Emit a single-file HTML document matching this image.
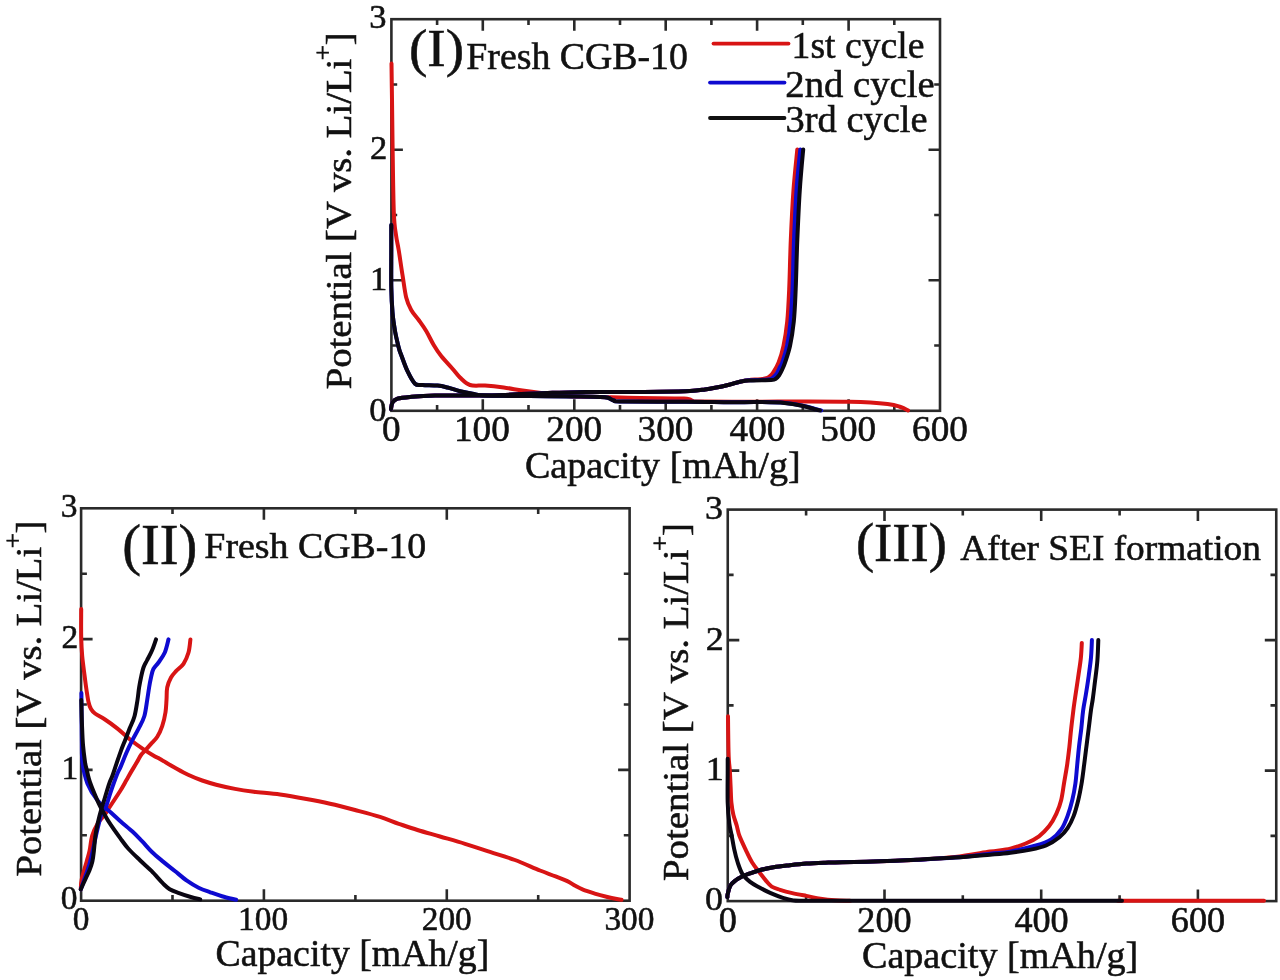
<!DOCTYPE html>
<html><head><meta charset="utf-8"><title>Capacity vs Potential</title>
<style>html,body{margin:0;padding:0;background:#fff;}body{width:1280px;height:980px;overflow:hidden;}svg{display:block;}</style>
</head><body>
<svg width="1280" height="980" viewBox="0 0 1280 980" font-family='"Liberation Serif", "Times New Roman", serif' fill="#111">

<rect width="1280" height="980" fill="#fff"/>
<g>
<rect x="391.4" y="19.2" width="548.6" height="391.6" fill="none" stroke="#2a2a2a" stroke-width="2.6"/>
<path d="M437.1,410.8v-5.8 M437.1,19.2v5.8 M482.8,410.8v-11.5 M482.8,19.2v11.5 M528.5,410.8v-5.8 M528.5,19.2v5.8 M574.3,410.8v-11.5 M574.3,19.2v11.5 M620.0,410.8v-5.8 M620.0,19.2v5.8 M665.7,410.8v-11.5 M665.7,19.2v11.5 M711.4,410.8v-5.8 M711.4,19.2v5.8 M757.1,410.8v-11.5 M757.1,19.2v11.5 M802.8,410.8v-5.8 M802.8,19.2v5.8 M848.6,410.8v-11.5 M848.6,19.2v11.5 M894.3,410.8v-5.8 M894.3,19.2v5.8 M391.4,345.5h5.8 M940.0,345.5h-5.8 M391.4,280.3h11.5 M940.0,280.3h-11.5 M391.4,215.0h5.8 M940.0,215.0h-5.8 M391.4,149.7h11.5 M940.0,149.7h-11.5 M391.4,84.5h5.8 M940.0,84.5h-5.8" stroke="#2a2a2a" stroke-width="2.6" fill="none"/>
<rect x="81.1" y="508.3" width="548.5" height="392.4" fill="none" stroke="#2a2a2a" stroke-width="2.6"/>
<path d="M172.5,900.7v-5.8 M172.5,508.3v5.8 M263.9,900.7v-11.5 M263.9,508.3v11.5 M355.4,900.7v-5.8 M355.4,508.3v5.8 M446.8,900.7v-11.5 M446.8,508.3v11.5 M538.2,900.7v-5.8 M538.2,508.3v5.8 M81.1,835.3h5.8 M629.6,835.3h-5.8 M81.1,769.9h11.5 M629.6,769.9h-11.5 M81.1,704.5h5.8 M629.6,704.5h-5.8 M81.1,639.1h11.5 M629.6,639.1h-11.5 M81.1,573.7h5.8 M629.6,573.7h-5.8" stroke="#2a2a2a" stroke-width="2.6" fill="none"/>
<rect x="727.75" y="509.6" width="548.5" height="391.5" fill="none" stroke="#2a2a2a" stroke-width="2.6"/>
<path d="M806.1,901.1v-5.8 M806.1,509.6v5.8 M884.5,901.1v-11.5 M884.5,509.6v11.5 M962.8,901.1v-5.8 M962.8,509.6v5.8 M1041.2,901.1v-11.5 M1041.2,509.6v11.5 M1119.6,901.1v-5.8 M1119.6,509.6v5.8 M1197.9,901.1v-11.5 M1197.9,509.6v11.5 M727.8,835.9h5.8 M1276.3,835.9h-5.8 M727.8,770.6h11.5 M1276.3,770.6h-11.5 M727.8,705.4h5.8 M1276.3,705.4h-5.8 M727.8,640.1h11.5 M1276.3,640.1h-11.5 M727.8,574.9h5.8 M1276.3,574.9h-5.8" stroke="#2a2a2a" stroke-width="2.6" fill="none"/>
<path d="M391.5,63.5 C391.6,69.6 391.8,87.2 392.0,100.0 C392.2,112.8 392.2,121.3 392.5,140.0 C392.8,158.7 393.2,196.2 393.8,212.0 C394.4,227.8 395.2,228.7 396.0,235.0 C396.8,241.3 397.6,243.3 398.7,250.0 C399.8,256.7 401.2,267.1 402.5,275.0 C403.8,282.9 404.8,291.7 406.2,297.5 C407.6,303.3 409.1,306.2 411.2,310.0 C413.3,313.8 416.2,316.5 418.7,320.0 C421.2,323.5 423.7,326.8 426.2,331.0 C428.7,335.2 431.2,340.8 433.7,345.0 C436.2,349.2 438.1,352.1 441.2,356.0 C444.3,359.9 449.4,365.1 452.5,368.7 C455.6,372.3 457.1,374.8 460.0,377.5 C462.9,380.2 465.8,383.6 470.0,385.0 C474.2,386.4 479.4,385.2 485.0,385.6 C490.6,386.0 497.4,386.7 503.7,387.5 C509.9,388.3 516.3,389.7 522.5,390.6 C528.7,391.5 533.1,392.1 541.0,393.0 C548.9,393.9 560.2,395.6 570.0,396.3 C579.8,397.0 588.3,396.7 600.0,397.0 C611.7,397.3 626.0,397.8 640.0,398.0 C654.0,398.2 675.3,398.1 684.0,398.5 C692.7,398.9 689.5,400.0 692.0,400.5 C694.5,401.0 687.7,401.3 699.0,401.5 C710.3,401.7 744.2,401.7 760.0,401.7 C775.8,401.7 778.7,401.5 793.7,401.5 C808.7,401.5 834.4,401.4 850.0,401.8 C865.6,402.2 879.1,403.1 887.5,404.0 C895.9,404.9 897.2,405.9 900.6,407.0 C904.0,408.1 906.8,409.8 908.0,410.4" stroke="#d81414" stroke-width="4.0" fill="none" stroke-linejoin="round" stroke-linecap="round"/>
<path d="M391.0,409.0 C391.2,407.9 391.4,404.2 392.5,402.5 C393.6,400.8 394.6,399.6 397.5,398.7 C400.4,397.8 403.8,397.4 410.0,396.9 C416.2,396.4 422.5,395.8 435.0,395.6 C447.5,395.4 473.8,395.7 485.0,395.6 C496.2,395.5 495.4,395.3 502.5,395.0 C509.6,394.7 519.2,394.1 527.5,393.8 C535.8,393.4 544.2,393.0 552.5,392.8 C560.8,392.5 569.6,392.4 577.5,392.2 C585.4,392.1 592.9,391.9 600.0,391.9 C607.1,391.9 610.0,392.0 620.0,392.0 C630.0,392.0 648.3,392.0 660.0,391.8 C671.7,391.6 682.5,391.4 690.0,391.0 C697.5,390.6 700.8,390.0 705.0,389.5 C709.2,389.0 711.2,388.6 715.0,387.8 C718.8,387.1 723.7,386.1 728.0,385.0 C732.3,383.9 737.5,382.3 741.0,381.5 C744.5,380.7 744.7,380.7 748.7,380.2 C752.7,379.7 761.5,379.2 765.0,378.5 C768.5,377.8 768.6,377.1 770.0,376.0 C771.4,374.9 772.1,374.3 773.5,372.0 C774.9,369.7 776.9,366.7 778.6,362.4 C780.3,358.1 782.1,352.8 783.5,346.0 C784.9,339.2 786.2,331.1 787.2,321.6 C788.2,312.1 788.6,302.6 789.2,289.0 C789.8,275.4 790.1,256.5 790.8,240.0 C791.5,223.5 792.4,205.1 793.5,190.0 C794.6,174.9 796.7,156.2 797.3,149.5" stroke="#d81414" stroke-width="4.0" fill="none" stroke-linejoin="round" stroke-linecap="round"/>
<path d="M391.3,225.0 C391.3,229.2 391.3,239.6 391.3,250.0 C391.3,260.4 391.1,277.1 391.3,287.5 C391.5,297.9 391.9,305.2 392.5,312.5 C393.1,319.8 394.0,325.2 395.0,331.0 C396.0,336.8 397.7,343.5 398.7,347.5 C399.7,351.5 399.7,351.1 401.2,355.0 C402.7,358.9 405.2,366.4 407.5,371.2 C409.8,376.0 412.5,381.4 415.0,383.7 C417.5,386.0 418.8,384.7 422.5,385.0 C426.2,385.3 433.3,385.2 437.5,385.6 C441.7,386.0 443.8,386.6 447.5,387.5 C451.2,388.4 455.8,390.2 460.0,391.2 C464.2,392.2 468.3,393.0 472.5,393.7 C476.7,394.4 475.4,395.2 485.0,395.6 C494.6,396.0 515.0,395.9 530.0,396.0 C545.0,396.1 563.3,396.3 575.0,396.5 C586.7,396.7 594.5,396.8 600.0,397.0 C605.5,397.2 605.7,397.2 608.0,397.8 C610.3,398.4 611.7,399.9 614.0,400.5 C616.3,401.1 610.0,401.3 622.0,401.5 C634.0,401.7 668.0,401.6 686.0,401.7 C704.0,401.8 718.3,402.2 730.0,402.3 C741.7,402.4 746.7,401.9 756.0,402.0 C765.3,402.1 777.6,402.3 785.6,403.0 C793.6,403.7 798.9,404.9 804.2,406.0 C809.5,407.1 814.4,408.8 817.2,409.5 C820.0,410.2 820.5,410.2 821.2,410.4" stroke="#0e0ad0" stroke-width="4.0" fill="none" stroke-linejoin="round" stroke-linecap="round"/>
<path d="M391.0,409.0 C391.2,407.9 391.4,404.2 392.5,402.5 C393.6,400.8 394.6,399.6 397.5,398.7 C400.4,397.8 403.8,397.4 410.0,396.9 C416.2,396.4 422.5,395.8 435.0,395.6 C447.5,395.4 473.8,395.7 485.0,395.6 C496.2,395.5 495.4,395.3 502.5,395.0 C509.6,394.7 519.2,394.1 527.5,393.8 C535.8,393.4 544.2,393.0 552.5,392.8 C560.8,392.5 569.6,392.4 577.5,392.2 C585.4,392.1 592.9,391.9 600.0,391.9 C607.1,391.9 610.0,392.0 620.0,392.0 C630.0,392.0 648.3,392.0 660.0,391.8 C671.7,391.6 682.5,391.4 690.0,391.0 C697.5,390.6 700.8,390.0 705.0,389.5 C709.2,389.0 711.2,388.6 715.0,387.8 C718.8,387.1 723.7,386.1 728.0,385.0 C732.3,383.9 737.5,382.3 741.0,381.5 C744.5,380.7 744.2,380.6 748.7,380.3 C753.2,380.0 764.0,380.0 768.0,379.5 C772.0,379.0 771.5,378.6 773.0,377.5 C774.5,376.4 775.8,374.8 777.0,373.0 C778.2,371.2 779.1,368.8 780.0,367.0 C780.9,365.2 781.1,365.9 782.3,362.4 C783.5,358.9 785.6,352.8 787.0,346.0 C788.4,339.2 789.6,331.1 790.5,321.6 C791.4,312.1 791.9,302.6 792.5,289.0 C793.1,275.4 793.3,256.5 794.0,240.0 C794.7,223.5 795.5,205.1 796.5,190.0 C797.5,174.9 799.7,156.2 800.3,149.5" stroke="#0e0ad0" stroke-width="4.0" fill="none" stroke-linejoin="round" stroke-linecap="round"/>
<path d="M391.3,225.0 C391.3,229.2 391.3,239.6 391.3,250.0 C391.3,260.4 391.1,277.1 391.3,287.5 C391.5,297.9 391.9,305.2 392.5,312.5 C393.1,319.8 394.0,325.2 395.0,331.0 C396.0,336.8 397.7,343.5 398.7,347.5 C399.7,351.5 399.7,351.1 401.2,355.0 C402.7,358.9 405.2,366.4 407.5,371.2 C409.8,376.0 412.5,381.4 415.0,383.7 C417.5,386.0 418.8,384.7 422.5,385.0 C426.2,385.3 433.3,385.2 437.5,385.6 C441.7,386.0 443.8,386.6 447.5,387.5 C451.2,388.4 455.8,390.2 460.0,391.2 C464.2,392.2 468.3,393.0 472.5,393.7 C476.7,394.4 475.4,395.2 485.0,395.6 C494.6,396.0 515.0,395.9 530.0,396.0 C545.0,396.1 563.3,396.3 575.0,396.5 C586.7,396.7 594.5,396.8 600.0,397.0 C605.5,397.2 605.7,397.2 608.0,397.8 C610.3,398.4 611.7,399.9 614.0,400.5 C616.3,401.1 610.0,401.3 622.0,401.5 C634.0,401.7 668.0,401.6 686.0,401.7 C704.0,401.8 718.3,402.2 730.0,402.3 C741.7,402.4 746.9,401.9 756.0,402.0 C765.1,402.1 776.6,402.3 784.4,403.0 C792.2,403.7 797.7,404.9 803.0,406.0 C808.3,407.1 813.2,408.8 816.0,409.5 C818.8,410.2 819.3,410.2 820.0,410.4" stroke="#0a0612" stroke-width="4.0" fill="none" stroke-linejoin="round" stroke-linecap="round"/>
<path d="M391.0,409.0 C391.2,407.9 391.4,404.2 392.5,402.5 C393.6,400.8 394.6,399.6 397.5,398.7 C400.4,397.8 403.8,397.4 410.0,396.9 C416.2,396.4 422.5,395.8 435.0,395.6 C447.5,395.4 473.8,395.7 485.0,395.6 C496.2,395.5 495.4,395.3 502.5,395.0 C509.6,394.7 519.2,394.1 527.5,393.8 C535.8,393.4 544.2,393.0 552.5,392.8 C560.8,392.5 569.6,392.4 577.5,392.2 C585.4,392.1 592.9,391.9 600.0,391.9 C607.1,391.9 610.0,392.0 620.0,392.0 C630.0,392.0 648.3,392.0 660.0,391.8 C671.7,391.6 682.5,391.4 690.0,391.0 C697.5,390.6 700.8,390.0 705.0,389.5 C709.2,389.0 711.2,388.6 715.0,387.8 C718.8,387.1 723.7,386.1 728.0,385.0 C732.3,383.9 737.5,382.2 741.0,381.5 C744.5,380.8 743.7,380.8 748.7,380.5 C753.7,380.2 766.7,380.2 771.2,380.0 C775.7,379.8 774.2,379.8 775.5,379.0 C776.8,378.2 777.9,377.0 779.0,375.5 C780.1,374.0 781.0,372.2 782.0,370.0 C783.0,367.8 783.8,366.4 785.1,362.4 C786.4,358.4 788.5,352.8 790.0,346.0 C791.5,339.2 792.8,331.1 793.8,321.6 C794.8,312.1 795.1,302.6 795.7,289.0 C796.3,275.4 796.6,256.5 797.3,240.0 C798.0,223.5 798.8,205.1 799.8,190.0 C800.8,174.9 802.6,156.2 803.2,149.5" stroke="#0a0612" stroke-width="4.0" fill="none" stroke-linejoin="round" stroke-linecap="round"/>
<path d="M713.5,43.6H788.5" stroke="#d81414" stroke-width="3.8" stroke-linecap="round"/>
<path d="M710,82.6H784.5" stroke="#0e0ad0" stroke-width="3.8" stroke-linecap="round"/>
<path d="M710,118H784.5" stroke="#111" stroke-width="3.8" stroke-linecap="round"/>
<path d="M81.2,609.0 C81.2,613.8 81.0,629.6 81.2,637.5 C81.4,645.4 81.7,650.0 82.2,656.2 C82.8,662.5 83.8,669.4 84.5,675.0 C85.2,680.6 85.8,685.5 86.5,690.0 C87.2,694.5 87.8,698.8 88.5,702.0 C89.2,705.2 89.9,707.1 91.0,709.0 C92.1,710.9 92.7,711.8 95.0,713.5 C97.3,715.2 101.2,717.0 105.0,719.5 C108.8,722.0 113.3,725.3 117.5,728.6 C121.7,731.9 125.8,736.2 130.0,739.5 C134.2,742.8 138.3,745.8 142.5,748.6 C146.7,751.4 152.1,754.8 155.0,756.5 C157.9,758.2 156.8,757.1 160.0,758.9 C163.2,760.7 169.4,764.6 174.1,767.3 C178.8,769.9 183.4,772.6 188.1,774.8 C192.8,777.0 197.5,778.9 202.2,780.5 C206.9,782.1 210.8,783.3 216.2,784.7 C221.7,786.1 228.8,787.7 235.0,788.9 C241.2,790.1 246.2,790.8 253.8,791.7 C261.2,792.6 271.5,793.3 280.0,794.5 C288.5,795.7 296.7,797.2 305.0,798.8 C313.3,800.3 321.7,801.9 330.0,803.8 C338.3,805.6 346.7,807.8 355.0,810.0 C363.3,812.2 372.7,814.6 380.0,816.9 C387.3,819.2 392.5,821.6 398.8,823.8 C405.0,825.9 410.6,827.9 417.5,830.0 C424.4,832.1 432.1,834.2 440.0,836.5 C447.9,838.8 456.7,841.2 465.0,843.8 C473.3,846.3 481.7,849.2 490.0,851.9 C498.3,854.6 506.7,856.9 515.0,860.0 C523.3,863.1 533.2,867.8 540.0,870.5 C546.8,873.2 551.1,874.6 555.6,876.4 C560.1,878.2 564.0,879.5 567.3,881.1 C570.6,882.7 572.6,884.4 575.2,885.8 C577.8,887.2 579.8,888.4 583.0,889.7 C586.2,891.0 590.8,892.4 594.7,893.6 C598.6,894.8 602.5,895.8 606.4,896.7 C610.3,897.7 615.6,898.8 618.1,899.3 C620.6,899.8 620.9,899.7 621.5,899.8" stroke="#d81414" stroke-width="4.0" fill="none" stroke-linejoin="round" stroke-linecap="round"/>
<path d="M80.8,889.3 C81.0,887.6 80.7,883.9 81.7,879.3 C82.7,874.6 85.4,866.2 86.7,861.4 C88.0,856.6 88.7,855.1 89.6,850.7 C90.5,846.4 90.9,839.9 92.3,835.3 C93.7,830.7 96.0,826.5 98.0,823.1 C100.0,819.7 102.7,817.5 104.6,814.9 C106.5,812.3 106.6,811.6 109.2,807.7 C111.8,803.8 117.1,795.9 120.0,791.3 C122.9,786.7 124.5,783.5 126.5,780.0 C128.5,776.5 130.2,773.4 132.0,770.4 C133.8,767.4 135.5,764.6 137.0,762.0 C138.5,759.4 139.7,756.9 141.0,755.0 C142.3,753.1 143.5,752.4 145.1,750.6 C146.7,748.8 148.8,746.4 150.8,744.1 C152.8,741.8 155.4,739.7 157.3,736.7 C159.2,733.7 160.8,730.2 162.2,726.1 C163.6,722.0 164.8,716.6 165.5,712.2 C166.2,707.9 166.2,704.1 166.5,700.0 C166.8,695.9 166.5,691.2 167.2,687.5 C168.0,683.8 169.5,680.2 171.0,677.5 C172.5,674.8 173.9,673.5 176.0,671.2 C178.1,669.0 181.4,666.9 183.5,663.8 C185.6,660.6 187.3,656.6 188.5,652.5 C189.7,648.4 190.1,641.6 190.4,639.4" stroke="#d81414" stroke-width="4.0" fill="none" stroke-linejoin="round" stroke-linecap="round"/>
<path d="M81.4,693.0 C81.5,700.8 81.6,728.4 81.8,740.0 C82.0,751.6 81.6,755.4 82.5,762.6 C83.4,769.8 84.9,777.0 87.4,783.4 C90.0,789.8 93.9,795.9 97.8,800.7 C101.7,805.5 106.8,808.8 110.6,812.2 C114.4,815.6 116.7,817.9 120.4,821.2 C124.1,824.5 129.1,828.5 132.7,831.8 C136.3,835.1 138.8,837.9 142.0,841.2 C145.2,844.5 148.1,848.2 151.7,851.7 C155.3,855.2 159.5,858.6 163.4,861.9 C167.3,865.2 171.3,868.1 175.2,871.2 C179.1,874.4 183.0,877.9 186.9,880.6 C190.8,883.3 194.7,885.8 198.6,887.7 C202.5,889.7 206.4,890.9 210.3,892.3 C214.2,893.7 217.7,895.0 222.0,896.2 C226.3,897.5 233.8,899.2 236.1,899.8" stroke="#0e0ad0" stroke-width="4.0" fill="none" stroke-linejoin="round" stroke-linecap="round"/>
<path d="M80.8,889.3 C81.6,887.1 84.0,880.2 85.5,876.0 C87.0,871.8 88.3,868.0 89.5,864.0 C90.7,860.0 91.6,856.0 92.5,852.0 C93.4,848.0 94.0,844.5 95.0,840.0 C96.0,835.5 97.3,829.7 98.5,825.0 C99.7,820.3 100.8,814.9 102.0,812.0 C103.2,809.1 104.1,811.2 105.6,807.7 C107.1,804.2 109.0,796.8 110.9,791.3 C112.8,785.8 115.2,779.1 116.8,775.0 C118.4,770.9 119.0,770.6 120.6,766.9 C122.2,763.2 124.4,757.4 126.3,753.0 C128.2,748.6 129.9,744.9 132.0,740.8 C134.1,736.7 136.5,732.7 138.6,728.6 C140.7,724.5 142.9,721.1 144.3,716.3 C145.7,711.5 146.4,704.8 147.2,700.0 C148.0,695.2 148.5,691.2 149.1,687.5 C149.7,683.8 150.3,680.6 151.0,677.5 C151.7,674.4 152.2,671.2 153.5,668.8 C154.8,666.2 156.6,665.2 158.5,662.5 C160.4,659.8 163.1,656.4 164.8,652.5 C166.4,648.6 167.9,641.6 168.5,639.4" stroke="#0e0ad0" stroke-width="4.0" fill="none" stroke-linejoin="round" stroke-linecap="round"/>
<path d="M81.3,700.0 C81.4,704.2 81.7,717.5 82.0,725.0 C82.3,732.5 82.5,738.8 83.0,745.0 C83.5,751.2 84.4,757.8 85.0,762.0 C85.6,766.2 86.2,767.3 86.8,770.0 C87.4,772.7 88.0,775.5 88.7,778.0 C89.4,780.5 90.2,782.8 91.0,785.0 C91.8,787.2 92.2,788.2 93.5,791.3 C94.8,794.4 96.6,799.1 98.8,803.6 C101.0,808.1 104.3,814.1 106.5,818.0 C108.7,821.9 109.9,823.5 112.2,826.9 C114.5,830.3 117.7,834.7 120.4,838.4 C123.1,842.1 125.3,845.4 128.6,849.0 C131.9,852.6 136.2,856.6 140.0,860.3 C143.8,864.0 147.8,867.3 151.7,871.2 C155.6,875.2 160.4,880.8 163.4,883.8 C166.4,886.7 167.1,887.6 169.7,889.2 C172.3,890.8 175.5,891.8 179.0,893.1 C182.5,894.4 187.3,896.0 190.8,897.0 C194.3,898.0 198.6,899.0 200.2,899.4" stroke="#0a0612" stroke-width="4.0" fill="none" stroke-linejoin="round" stroke-linecap="round"/>
<path d="M80.8,889.3 C81.5,887.6 83.8,882.5 85.3,879.3 C86.8,876.1 88.4,873.0 89.6,870.0 C90.8,867.0 91.7,864.6 92.4,861.4 C93.1,858.2 93.4,855.1 93.9,850.7 C94.4,846.3 94.8,839.6 95.5,835.0 C96.2,830.4 96.8,827.5 97.8,823.0 C98.8,818.5 100.6,811.5 101.7,807.7 C102.8,803.9 103.4,802.7 104.2,800.0 C105.0,797.3 105.9,794.3 106.8,791.3 C107.7,788.3 108.8,784.7 109.8,782.0 C110.8,779.3 111.6,778.0 112.7,775.0 C113.8,772.0 115.1,767.8 116.5,763.7 C117.9,759.6 119.5,754.7 121.0,750.6 C122.5,746.5 124.1,742.9 125.5,739.2 C126.9,735.5 128.1,732.4 129.6,728.6 C131.1,724.8 133.2,721.1 134.5,716.3 C135.8,711.5 136.7,704.8 137.5,700.0 C138.3,695.2 138.5,691.2 139.1,687.5 C139.7,683.8 140.3,680.8 141.0,677.5 C141.7,674.2 142.5,670.4 143.5,667.5 C144.5,664.6 145.8,662.9 147.2,660.0 C148.7,657.1 150.8,653.4 152.2,650.0 C153.7,646.6 155.4,641.2 156.0,639.4" stroke="#0a0612" stroke-width="4.0" fill="none" stroke-linejoin="round" stroke-linecap="round"/>
<path d="M728.0,716.3 C728.0,720.2 728.2,732.9 728.3,740.0 C728.4,747.1 728.5,753.8 728.8,758.8 C729.0,763.8 729.5,765.4 729.8,770.0 C730.1,774.6 730.3,780.8 730.6,786.3 C730.9,791.8 730.9,797.9 731.4,802.7 C731.9,807.5 732.5,811.1 733.4,814.9 C734.3,818.7 735.7,822.0 736.7,825.5 C737.7,829.0 738.0,832.1 739.5,836.0 C741.0,839.9 743.3,844.7 745.4,849.1 C747.5,853.5 749.6,858.3 752.0,862.2 C754.4,866.1 757.1,869.4 759.5,872.5 C761.9,875.6 764.1,878.5 766.1,880.9 C768.1,883.2 769.4,885.1 771.7,886.6 C774.0,888.1 776.7,888.7 780.1,889.8 C783.5,890.9 787.9,892.1 792.3,893.1 C796.7,894.1 801.7,895.0 806.4,895.9 C811.1,896.8 815.6,898.1 820.4,898.8 C825.2,899.5 830.1,900.0 835.0,900.3 C839.9,900.6 847.5,900.7 850.0,900.8" stroke="#d81414" stroke-width="4.0" fill="none" stroke-linejoin="round" stroke-linecap="round"/>
<path d="M1118.0,900.8 L1264.0,900.8" stroke="#d81414" stroke-width="4.0" fill="none" stroke-linejoin="round" stroke-linecap="round"/>
<path d="M727.4,897.0 C727.5,896.5 727.2,896.0 727.7,894.1 C728.2,892.2 729.0,888.0 730.4,885.6 C731.8,883.2 734.1,881.6 736.1,880.0 C738.1,878.4 740.3,877.3 742.6,876.2 C744.9,875.1 747.3,874.4 750.1,873.4 C752.9,872.4 755.6,871.2 759.5,870.2 C763.4,869.2 768.9,868.1 773.6,867.3 C778.3,866.5 782.1,866.1 787.6,865.5 C793.1,864.9 800.1,864.1 806.4,863.6 C812.6,863.1 819.2,862.9 825.1,862.7 C831.0,862.5 832.9,862.4 842.0,862.2 C851.1,862.0 867.4,861.7 880.0,861.3 C892.6,860.9 905.0,860.4 917.5,859.7 C930.0,859.0 942.9,858.4 955.0,857.0 C967.1,855.6 980.8,853.0 990.0,851.6 C999.2,850.2 1004.4,850.0 1010.4,848.6 C1016.4,847.2 1020.9,845.5 1025.7,843.5 C1030.5,841.5 1035.1,839.2 1039.0,836.3 C1042.9,833.4 1046.3,829.8 1049.2,826.1 C1052.1,822.4 1054.3,818.2 1056.3,813.9 C1058.3,809.5 1059.9,805.4 1061.2,800.0 C1062.5,794.6 1063.3,787.4 1064.3,781.6 C1065.3,775.8 1066.2,770.9 1067.1,765.1 C1067.9,759.3 1068.7,752.8 1069.4,746.7 C1070.1,740.6 1070.5,734.5 1071.2,728.4 C1071.9,722.3 1072.6,716.5 1073.4,710.0 C1074.2,703.5 1075.4,695.7 1076.3,689.7 C1077.2,683.7 1077.8,679.5 1078.6,674.1 C1079.4,668.7 1080.4,662.7 1080.9,657.5 C1081.4,652.3 1081.7,645.3 1081.8,642.9" stroke="#d81414" stroke-width="4.0" fill="none" stroke-linejoin="round" stroke-linecap="round"/>
<path d="M727.4,897.0 C727.5,896.5 727.2,896.0 727.7,894.1 C728.2,892.2 729.0,888.0 730.4,885.6 C731.8,883.2 734.1,881.6 736.1,880.0 C738.1,878.4 740.3,877.3 742.6,876.2 C744.9,875.1 747.3,874.4 750.1,873.4 C752.9,872.4 755.6,871.2 759.5,870.2 C763.4,869.2 768.9,868.1 773.6,867.3 C778.3,866.5 782.1,866.1 787.6,865.5 C793.1,864.9 800.1,864.1 806.4,863.6 C812.6,863.1 819.2,862.9 825.1,862.7 C831.0,862.5 832.9,862.4 842.0,862.2 C851.1,862.0 867.4,861.7 880.0,861.3 C892.6,860.9 905.0,860.3 917.5,859.7 C930.0,859.1 942.9,858.6 955.0,857.6 C967.1,856.6 980.8,854.7 990.0,853.7 C999.2,852.7 1002.4,853.0 1010.0,851.6 C1017.6,850.2 1029.0,847.5 1035.9,845.5 C1042.8,843.5 1047.0,842.1 1051.2,839.4 C1055.5,836.7 1058.7,833.1 1061.4,829.2 C1064.1,825.3 1065.8,820.8 1067.6,815.9 C1069.4,811.0 1071.0,805.4 1072.3,800.0 C1073.6,794.6 1074.6,789.3 1075.4,783.5 C1076.2,777.7 1076.6,771.2 1077.2,765.1 C1077.8,759.0 1078.3,752.8 1079.0,746.7 C1079.7,740.6 1080.6,734.5 1081.3,728.4 C1082.0,722.3 1082.4,715.7 1083.2,710.0 C1084.0,704.3 1085.0,700.0 1085.9,694.3 C1086.8,688.6 1087.9,682.0 1088.7,675.9 C1089.5,669.8 1090.5,663.5 1091.0,657.5 C1091.5,651.5 1091.8,643.0 1091.9,640.1" stroke="#0e0ad0" stroke-width="4.0" fill="none" stroke-linejoin="round" stroke-linecap="round"/>
<path d="M727.7,758.8 C727.7,760.7 727.7,762.7 727.7,770.0 C727.7,777.3 727.4,793.9 727.7,802.7 C728.0,811.6 728.6,817.7 729.3,823.1 C729.9,828.5 730.8,830.7 731.6,835.0 C732.4,839.3 733.2,844.4 734.2,849.1 C735.2,853.8 736.5,858.9 737.9,863.1 C739.3,867.3 740.6,871.3 742.6,874.4 C744.6,877.5 747.3,879.7 750.1,881.9 C752.9,884.1 756.1,885.6 759.5,887.5 C762.9,889.4 766.8,891.4 770.7,893.1 C774.6,894.8 779.3,896.6 782.9,897.8 C786.5,899.0 787.8,899.7 792.3,900.2 C796.8,900.7 792.0,900.7 810.0,900.8 C828.0,900.9 848.0,900.8 900.0,900.8 C952.0,900.8 1085.0,900.8 1122.0,900.8" stroke="#0a0612" stroke-width="4.0" fill="none" stroke-linejoin="round" stroke-linecap="round"/>
<path d="M727.4,897.0 C727.5,896.5 727.2,896.0 727.7,894.1 C728.2,892.2 729.0,888.0 730.4,885.6 C731.8,883.2 734.1,881.6 736.1,880.0 C738.1,878.4 740.3,877.3 742.6,876.2 C744.9,875.1 747.3,874.4 750.1,873.4 C752.9,872.4 755.6,871.2 759.5,870.2 C763.4,869.2 768.9,868.1 773.6,867.3 C778.3,866.5 782.1,866.1 787.6,865.5 C793.1,864.9 800.1,864.1 806.4,863.6 C812.6,863.1 819.2,862.9 825.1,862.7 C831.0,862.5 832.9,862.4 842.0,862.2 C851.1,862.0 867.4,861.7 880.0,861.3 C892.6,860.9 905.0,860.3 917.5,859.7 C930.0,859.1 942.9,858.4 955.0,857.6 C967.1,856.8 980.8,855.5 990.0,854.7 C999.2,853.9 1003.6,853.6 1010.4,852.7 C1017.2,851.9 1024.8,850.8 1030.8,849.6 C1036.8,848.4 1041.3,847.5 1046.1,845.5 C1050.9,843.5 1055.8,840.2 1059.4,837.3 C1063.0,834.4 1065.2,831.8 1067.6,828.2 C1070.0,824.6 1071.9,820.6 1073.7,815.9 C1075.5,811.2 1077.0,805.3 1078.3,800.0 C1079.6,794.7 1080.5,789.8 1081.5,784.0 C1082.5,778.2 1083.3,771.3 1084.1,765.1 C1084.9,758.9 1085.6,752.8 1086.4,746.7 C1087.2,740.6 1087.9,734.5 1088.7,728.4 C1089.5,722.3 1090.3,714.9 1091.0,710.0 C1091.7,705.1 1092.1,703.8 1092.8,698.9 C1093.5,694.0 1094.3,686.9 1095.1,680.5 C1095.9,674.1 1096.9,667.0 1097.4,660.3 C1097.9,653.6 1098.2,643.5 1098.3,640.1" stroke="#0a0612" stroke-width="4.0" fill="none" stroke-linejoin="round" stroke-linecap="round"/>
<g stroke="#111" fill="#111">
<text transform="translate(382.10,441.10) scale(0.3720,0.3500)" font-size="100" stroke-width="1.52">0</text>
<text transform="translate(454.00,441.10) scale(0.3720,0.3500)" font-size="100" stroke-width="1.52">100</text>
<text transform="translate(546.37,441.10) scale(0.3720,0.3500)" font-size="100" stroke-width="1.52">200</text>
<text transform="translate(637.61,441.10) scale(0.3720,0.3500)" font-size="100" stroke-width="1.52">300</text>
<text transform="translate(729.61,441.10) scale(0.3720,0.3500)" font-size="100" stroke-width="1.52">400</text>
<text transform="translate(820.29,441.10) scale(0.3720,0.3500)" font-size="100" stroke-width="1.52">500</text>
<text transform="translate(912.10,441.10) scale(0.3720,0.3500)" font-size="100" stroke-width="1.52">600</text>
<text transform="translate(369.33,421.35) scale(0.3450,0.3380)" font-size="100" stroke-width="1.61">0</text>
<text transform="translate(370.02,289.52) scale(0.3450,0.3380)" font-size="100" stroke-width="1.61">1</text>
<text transform="translate(370.02,158.82) scale(0.3450,0.3380)" font-size="100" stroke-width="1.61">2</text>
<text transform="translate(369.33,28.12) scale(0.3450,0.3380)" font-size="100" stroke-width="1.61">3</text>
<text transform="translate(72.75,930.21) scale(0.3340,0.3450)" font-size="100" stroke-width="1.62">0</text>
<text transform="translate(238.05,930.21) scale(0.3340,0.3450)" font-size="100" stroke-width="1.62">100</text>
<text transform="translate(421.72,930.21) scale(0.3340,0.3450)" font-size="100" stroke-width="1.62">200</text>
<text transform="translate(604.38,930.21) scale(0.3340,0.3450)" font-size="100" stroke-width="1.62">300</text>
<text transform="translate(60.79,909.15) scale(0.3350,0.3380)" font-size="100" stroke-width="1.63">0</text>
<text transform="translate(61.46,778.85) scale(0.3350,0.3380)" font-size="100" stroke-width="1.63">1</text>
<text transform="translate(61.46,647.88) scale(0.3350,0.3380)" font-size="100" stroke-width="1.63">2</text>
<text transform="translate(60.79,516.92) scale(0.3350,0.3380)" font-size="100" stroke-width="1.63">3</text>
<text transform="translate(718.70,931.70) scale(0.3620,0.3500)" font-size="100" stroke-width="1.54">0</text>
<text transform="translate(857.33,931.70) scale(0.3620,0.3500)" font-size="100" stroke-width="1.54">200</text>
<text transform="translate(1014.42,931.70) scale(0.3620,0.3500)" font-size="100" stroke-width="1.54">400</text>
<text transform="translate(1170.79,931.70) scale(0.3620,0.3500)" font-size="100" stroke-width="1.54">600</text>
<text transform="translate(704.94,910.27) scale(0.3600,0.3450)" font-size="100" stroke-width="1.56">0</text>
<text transform="translate(705.66,780.28) scale(0.3600,0.3450)" font-size="100" stroke-width="1.56">1</text>
<text transform="translate(705.66,649.61) scale(0.3600,0.3450)" font-size="100" stroke-width="1.56">2</text>
<text transform="translate(704.94,518.94) scale(0.3600,0.3450)" font-size="100" stroke-width="1.56">3</text>
<text transform="translate(524.98,477.78) scale(0.3804,0.3867)" font-size="100" stroke-width="1.43">Capacity [mAh/g]</text>
<text transform="translate(215.49,966.16) scale(0.3780,0.3733)" font-size="100" stroke-width="1.46">Capacity [mAh/g]</text>
<text transform="translate(861.98,968.06) scale(0.3812,0.3733)" font-size="100" stroke-width="1.46">Capacity [mAh/g]</text>
<text transform="translate(351.00,389.36) rotate(-90) scale(0.3876,0.3650)" font-size="100" stroke-width="1.46">Potential [V vs. Li/Li<tspan font-size="70" dx="-4" dy="-54">+</tspan><tspan dx="-1" dy="54">]</tspan></text>
<text transform="translate(41.00,876.56) rotate(-90) scale(0.3863,0.3650)" font-size="100" stroke-width="1.46">Potential [V vs. Li/Li<tspan font-size="70" dx="-4" dy="-54">+</tspan><tspan dx="-1" dy="54">]</tspan></text>
<text transform="translate(688.00,881.07) rotate(-90) scale(0.3888,0.3650)" font-size="100" stroke-width="1.46">Potential [V vs. Li/Li<tspan font-size="70" dx="-4" dy="-54">+</tspan><tspan dx="-1" dy="54">]</tspan></text>
<text transform="translate(408.89,66.49) scale(0.5527,0.5289)" font-size="100" stroke-width="1.02">(I)</text>
<text transform="translate(466.27,68.65) scale(0.3782,0.3732)" font-size="100" stroke-width="1.46">Fresh CGB-10</text>
<text transform="translate(122.24,563.61) scale(0.5640,0.5711)" font-size="100" stroke-width="0.97">(II)</text>
<text transform="translate(204.36,557.60) scale(0.3788,0.3493)" font-size="100" stroke-width="1.51">Fresh CGB-10</text>
<text transform="translate(855.92,560.53) scale(0.5462,0.5511)" font-size="100" stroke-width="1.00">(III)</text>
<text transform="translate(960.23,560.17) scale(0.3735,0.3658)" font-size="100" stroke-width="1.49">After SEI formation</text>
<text transform="translate(791.61,57.89) scale(0.3769,0.3767)" font-size="100" stroke-width="1.46">1st cycle</text>
<text transform="translate(785.30,97.27) scale(0.3870,0.3778)" font-size="100" stroke-width="1.44">2nd cycle</text>
<text transform="translate(785.58,132.42) scale(0.3845,0.3706)" font-size="100" stroke-width="1.46">3rd cycle</text>
</g>
</g>
</svg>
</body></html>
